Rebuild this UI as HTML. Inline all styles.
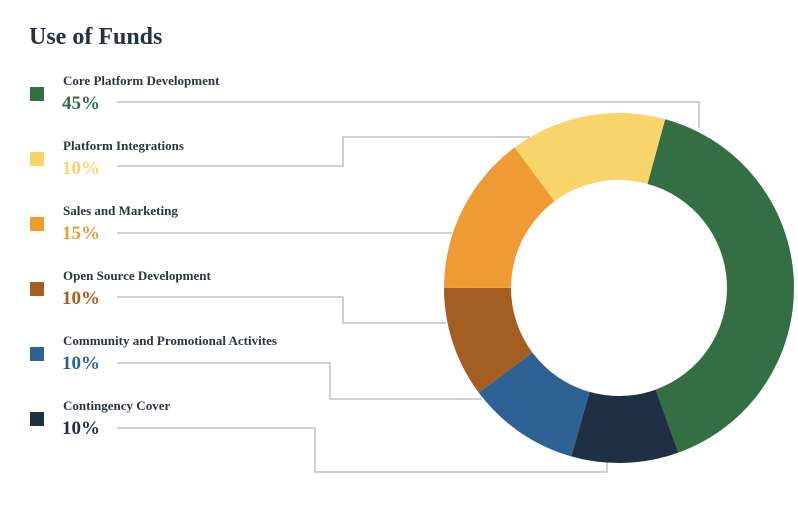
<!DOCTYPE html>
<html><head><meta charset="utf-8"><style>
body{margin:0;background:#fff;}
svg{display:block;font-family:"Liberation Serif",serif;}
</style></head><body>
<svg id="chart" width="798" height="518" viewBox="0 0 798 518">
<text x="29" y="44" font-size="24" font-weight="bold" fill="#26323f">Use of Funds</text>
<g id="leaders" fill="none" stroke="#b5b5b5" stroke-width="1.3">
<polyline points="117,102 699,102 699,128"/>
<polyline points="117,166 343,166 343,137 530,137"/>
<polyline points="117,233 452,233"/>
<polyline points="117,297 343,297 343,323 446,323"/>
<polyline points="117,363 330,363 330,399 482,399"/>
<polyline points="117,428 315,428 315,472 607,472 607,462"/>
</g>
<g id="legend"></g>
<g id="donut"></g>
</svg>
<script>
const categories=["Core Platform Development","Platform Integrations","Sales and Marketing","Open Source Development","Community and Promotional Activites","Contingency Cover"];
const percentLabels=["45%","10%","15%","10%","10%","10%"];
// visual arc shares as drawn (clockwise order: core, contingency, community, open source, sales, integrations)
const arcOrder=[0,5,4,3,2,1];
const arcShares=[40.2,9.9,10.4,10.2,14.8,14.4];
const colors=["#346e43","#f8d46b","#ee9b33","#a55e21","#2e6295","#203044"];
const NS="http://www.w3.org/2000/svg";
const legend=document.getElementById('legend');
categories.forEach((c,i)=>{
  const y=65*i;
  const r=document.createElementNS(NS,'rect');
  
  
  r.setAttribute('x',30);r.setAttribute('y',87+y);r.setAttribute('width',14);r.setAttribute('height',14);r.setAttribute('fill',colors[i]);
  legend.appendChild(r);
  const t=document.createElementNS(NS,'text');
  
  
  t.setAttribute('x',63);t.setAttribute('y',85+y);t.setAttribute('font-size',13);t.setAttribute('font-weight','bold');t.setAttribute('fill','#2b3541');
  t.textContent=c;legend.appendChild(t);
  const p=document.createElementNS(NS,'text');
  
  
  p.setAttribute('x',62);p.setAttribute('y',109+y);p.setAttribute('font-size',19);p.setAttribute('font-weight','bold');p.setAttribute('fill',colors[i]);
  p.textContent=percentLabels[i];legend.appendChild(p);
});
const cx=619,cy=288,R=175,r0=108,start=15.3;
const total=arcShares.reduce((a,b)=>a+b,0);
const donut=document.getElementById('donut');
function pt(a,rad){const t=(a-90)*Math.PI/180;return [cx+rad*Math.cos(t),cy+rad*Math.sin(t)];}
let a=start;
arcShares.forEach((v,k)=>{
  const sweep=v/total*360,b=a+sweep,large=sweep>180?1:0;
  const [x1,y1]=pt(a,R),[x2,y2]=pt(b,R),[x3,y3]=pt(b,r0),[x4,y4]=pt(a,r0);
  const path=document.createElementNS(NS,'path');
  
  
  path.setAttribute('d',`M${x1},${y1}A${R},${R} 0 ${large} 1 ${x2},${y2}L${x3},${y3}A${r0},${r0} 0 ${large} 0 ${x4},${y4}Z`);
  path.setAttribute('fill',colors[arcOrder[k]]);
  donut.appendChild(path);
  a=b;
});
</script>
</body></html>
